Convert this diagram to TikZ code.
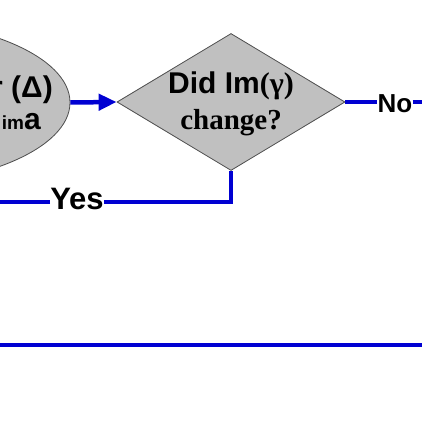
\documentclass[tikz,border=0pt]{standalone}
\usepackage{fontspec}
\setmainfont{Liberation Sans}
\newfontfamily\timesfont{Liberation Serif}
\usepackage{xcolor}
\usetikzlibrary{shapes,arrows.meta,positioning}
\definecolor{flowblue}{RGB}{0,0,210}
\definecolor{boxgray}{RGB}{192,192,192}

\begin{document}
\begin{tikzpicture}[x=1pt, y=-1pt,
    process/.style={draw=gray!60!black, line width=0.8pt, ellipse, fill=boxgray,
                    inner sep=0pt, minimum width=400pt, minimum height=168pt},
    decision/.style={draw=gray!60!black, line width=0.8pt, diamond, fill=boxgray,
                     inner sep=0pt, minimum width=228pt, minimum height=137pt},
    lbl/.style={font=\fontsize{30}{36}\selectfont\bfseries, inner sep=0pt},
    flow/.style={draw=flowblue, line width=4.5pt},
    arrow/.style={flow, -{Triangle[length=18pt, width=16pt]}}
]
\useasboundingbox (0,0) rectangle (422,422);
\clip (0,0) rectangle (422,422);

\node[process] (solve) at (-130,102.5) {};
\node[lbl, anchor=base east] (delta) at (53,98) {r (Δ)};
\node[lbl, anchor=base east] (alpha) at (41,130)
  {{\fontsize{19}{19}\selectfont im}a};

\node[decision] (dec) at (231,102) {};
\node[lbl, align=center] (ask) at (231,103.5)
  {Did Im{\timesfont(γ)}\\ {\timesfont\fontsize{29}{36}\selectfont change?}};

\node[lbl, font=\fontsize{26}{30}\selectfont\bfseries, anchor=base] (no) at (395,113) {No};
\node[lbl, font=\fontsize{31}{36}\selectfont\bfseries, anchor=base] (yes) at (77,209) {Yes};

\coordinate (noend) at (422,102);
\coordinate (bend) at (231,202);
\coordinate (yesend) at (0,202);
\coordinate (loopL) at (0,345);
\coordinate (loopR) at (422,345);

\draw[arrow] (solve.east) -- (dec.west);
\draw[flow] (dec.east) -- (no.west |- dec.east);
\draw[flow] (no.east |- dec.east) -- (noend);
\draw[flow] (dec.south) -- (bend) -- (yes.east |- bend);
\draw[flow] (yes.west |- bend) -- (yesend);
\draw[flow] (loopL) -- (loopR);
\end{tikzpicture}
\end{document}
